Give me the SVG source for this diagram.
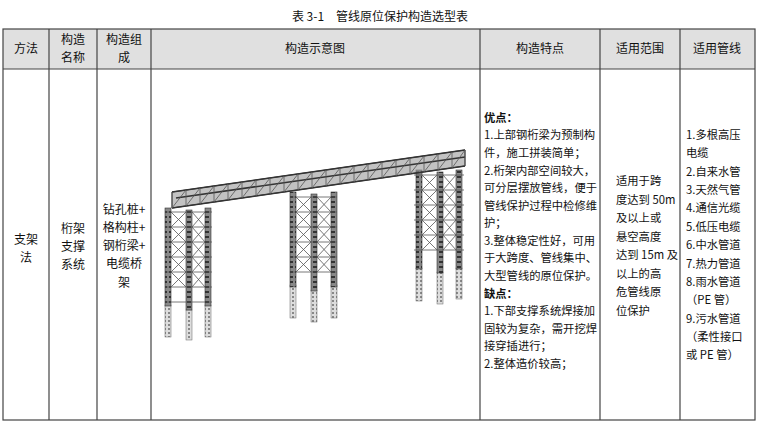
<svg xmlns="http://www.w3.org/2000/svg" width="760" height="425" viewBox="0 0 760 425">
<style>
.t{font-family:"Noto Sans CJK SC","Liberation Sans",sans-serif;font-size:12px;fill:#111}
.s{font-size:11.3px}
.c{text-anchor:middle}
.b{font-weight:bold}
.ln{stroke:#444;stroke-width:1.2;fill:none}
.col{fill:url(#colp);stroke:#333;stroke-width:0.6}
.pile{fill:url(#pilep);stroke:#666;stroke-width:0.5}
.br{stroke:#555;stroke-width:0.8;fill:none}
.bm{stroke:#333;stroke-width:1.6}
</style>
<defs>
<pattern id="colp" width="6" height="5" patternUnits="userSpaceOnUse">
<rect width="6" height="5" fill="#888"/><rect x="1" y="1" width="4" height="2" fill="#333"/>
</pattern>
<pattern id="pilep" width="4" height="4" patternUnits="userSpaceOnUse">
<rect width="4" height="4" fill="#ddd"/><rect x="0" y="0" width="2" height="2" fill="#888"/>
</pattern>
</defs>
<rect width="760" height="425" fill="#fff"/>
<text class="t c" x="380" y="21" font-size="10">表 3-1　管线原位保护构造选型表</text>
<g id="table">
<rect x="3" y="29" width="752" height="40" fill="#e0e0e0"/>
<rect x="3" y="29" width="752" height="391" class="ln"/>
<line class="ln" x1="3" y1="69" x2="755" y2="69" stroke-width="2"/>
<line class="ln" x1="49" y1="29" x2="49" y2="420"/>
<line class="ln" x1="97" y1="29" x2="97" y2="420"/>
<line class="ln" x1="151" y1="29" x2="151" y2="420"/>
<line class="ln" x1="480" y1="29" x2="480" y2="420"/>
<line class="ln" x1="600" y1="29" x2="600" y2="420"/>
<line class="ln" x1="680" y1="29" x2="680" y2="420"/>
</g>
<g id="header">
<text class="t c" x="26" y="53">方法</text>
<text class="t c" x="73" y="44">构造</text><text class="t c" x="73" y="62">名称</text>
<text class="t c" x="124" y="44">构造组</text><text class="t c" x="124" y="62">成</text>
<text class="t c" x="315" y="53">构造示意图</text>
<text class="t c" x="540" y="53">构造特点</text>
<text class="t c" x="640" y="53">适用范围</text>
<text class="t c" x="717" y="53">适用管线</text>
</g>
<g id="cells">
<text class="t c" x="26" y="244">支架</text><text class="t c" x="26" y="262">法</text>
<text class="t c" x="73" y="233">桁架</text><text class="t c" x="73" y="251">支撑</text><text class="t c" x="73" y="269">系统</text>
<text class="t c" x="124" y="214">钻孔桩+</text><text class="t c" x="124" y="232">格构柱+</text><text class="t c" x="124" y="250">钢桁梁+</text><text class="t c" x="124" y="268">电缆桥</text><text class="t c" x="124" y="287">架</text>
<g>
<text class="t s b" x="484" y="122">优点：</text>
<text class="t s" x="484" y="139">1.上部钢桁梁为预制构</text>
<text class="t s" x="484" y="157">件，施工拼装简单；</text>
<text class="t s" x="484" y="175">2.桁架内部空间较大，</text>
<text class="t s" x="484" y="192">可分层摆放管线，便于</text>
<text class="t s" x="484" y="210">管线保护过程中检修维</text>
<text class="t s" x="484" y="227">护；</text>
<text class="t s" x="484" y="245">3.整体稳定性好，可用</text>
<text class="t s" x="484" y="262">于大跨度、管线集中、</text>
<text class="t s" x="484" y="280">大型管线的原位保护。</text>
<text class="t s b" x="484" y="298">缺点：</text>
<text class="t s" x="484" y="315">1.下部支撑系统焊接加</text>
<text class="t s" x="484" y="333">固较为复杂，需开挖焊</text>
<text class="t s" x="484" y="350">接穿插进行；</text>
<text class="t s" x="484" y="368">2.整体造价较高；</text>
</g>
<text class="t s" x="616" y="185">适用于跨</text>
<text class="t s" x="616" y="204">度达到 50m</text>
<text class="t s" x="616" y="222">及以上或</text>
<text class="t s" x="616" y="241">悬空高度</text>
<text class="t s" x="616" y="259">达到 15m 及</text>
<text class="t s" x="616" y="278">以上的高</text>
<text class="t s" x="616" y="296">危管线原</text>
<text class="t s" x="616" y="315">位保护</text>
<text class="t s" x="686" y="139">1.多根高压</text>
<text class="t s" x="686" y="157">电缆</text>
<text class="t s" x="686" y="176">2.自来水管</text>
<text class="t s" x="686" y="194">3.天然气管</text>
<text class="t s" x="686" y="212">4.通信光缆</text>
<text class="t s" x="686" y="231">5.低压电缆</text>
<text class="t s" x="686" y="249">6.中水管道</text>
<text class="t s" x="686" y="268">7.热力管道</text>
<text class="t s" x="686" y="286">8.雨水管道</text>
<text class="t s" x="686" y="304">（PE 管）</text>
<text class="t s" x="686" y="323">9.污水管道</text>
<text class="t s" x="686" y="341">（柔性接口</text>
<text class="t s" x="686" y="359">或 PE 管）</text>
</g>
<g id="drawing">
<g>
<rect class="pile" x="165" y="305" width="6" height="32"/><rect class="pile" x="186" y="310" width="6" height="30"/><rect class="pile" x="205" y="305" width="6" height="32"/>
<rect class="col" x="165" y="208" width="6" height="98"/><rect class="col" x="186" y="210" width="6" height="100"/><rect class="col" x="205" y="208" width="6" height="98"/>
<path class="br" d="M165 212H212M165 227H212M165 242H212M165 257H212M165 272H212M165 287H212M165 302H212M171 212L186 227M186 212L171 227M171 227L186 242M186 227L171 242M171 242L186 257M186 242L171 257M171 257L186 272M186 257L171 272M171 272L186 287M186 272L171 287M192 212L205 227M205 212L192 227M192 227L205 242M205 227L192 242M192 242L205 257M205 242L192 257M192 257L205 272M205 257L192 272M192 272L205 287M205 272L192 287"/>
</g>
<g>
<rect class="pile" x="290" y="285" width="6" height="33"/><rect class="pile" x="311" y="290" width="6" height="32"/><rect class="pile" x="331" y="285" width="6" height="33"/>
<rect class="col" x="290" y="192" width="6" height="95"/><rect class="col" x="311" y="194" width="6" height="97"/><rect class="col" x="331" y="192" width="6" height="95"/>
<path class="br" d="M290 197H337M290 212H337M290 227H337M290 242H337M290 257H337M290 272H337M296 197L311 212M311 197L296 212M296 212L311 227M311 212L296 227M296 227L311 242M311 227L296 242M296 242L311 257M311 242L296 257M296 257L311 272M311 257L296 272M317 197L331 212M331 197L317 212M317 212L331 227M331 212L317 227M317 227L331 242M331 227L317 242M317 242L331 257M331 242L317 257M317 257L331 272M331 257L317 272"/>
</g>
<g>
<rect class="pile" x="416" y="268" width="6" height="33"/><rect class="pile" x="437" y="272" width="6" height="32"/><rect class="pile" x="456" y="268" width="6" height="31"/>
<rect class="col" x="416" y="170" width="6" height="99"/><rect class="col" x="437" y="172" width="6" height="101"/><rect class="col" x="456" y="170" width="6" height="99"/>
<path class="br" d="M414 175H464M414 190H464M414 205H464M414 220H464M414 235H464M414 250H464M422 175L437 190M437 175L422 190M422 190L437 205M437 190L422 205M422 205L437 220M437 205L422 220M422 220L437 235M437 220L422 235M422 235L437 250M437 235L422 250M443 175L456 190M456 175L443 190M443 190L456 205M456 190L443 205M443 205L456 220M456 205L443 220M443 220L456 235M456 220L443 235M443 235L456 250M456 235L443 250"/>
</g>
<g>
<polygon points="172,192 465,150 465,166 172,208" fill="#999" fill-opacity="0.6" stroke="#333"/>
<line class="bm" x1="172" y1="192" x2="465" y2="150"/>
<line class="bm" x1="176" y1="198" x2="465" y2="157"/>
<line class="bm" x1="172" y1="208" x2="465" y2="166"/>
<path class="br" stroke="#333" stroke-width="1.2" d="M172 192V208M186 190V206M200 188V204M214 186V202M228 184V200M242 182V198M256 180V196M270 178V194M284 176V192M298 174V190M312 172V188M326 170V186M340 168V184M354 166V182M368 164V180M382 162V178M396 160V176M410 158V174M424 156V172M438 154V170M452 152V168M465 150V166M172 208L186 190M186 206L200 188M200 204L214 186M214 202L228 184M228 200L242 182M242 198L256 180M256 196L270 178M270 194L284 176M284 192L298 174M298 190L312 172M312 188L326 170M326 186L340 168M340 184L354 166M354 182L368 164M368 180L382 162M382 178L396 160M396 176L410 158M410 174L424 156M424 172L438 154M438 170L452 152M452 168L465 150"/>
</g>
</g>
</svg>
